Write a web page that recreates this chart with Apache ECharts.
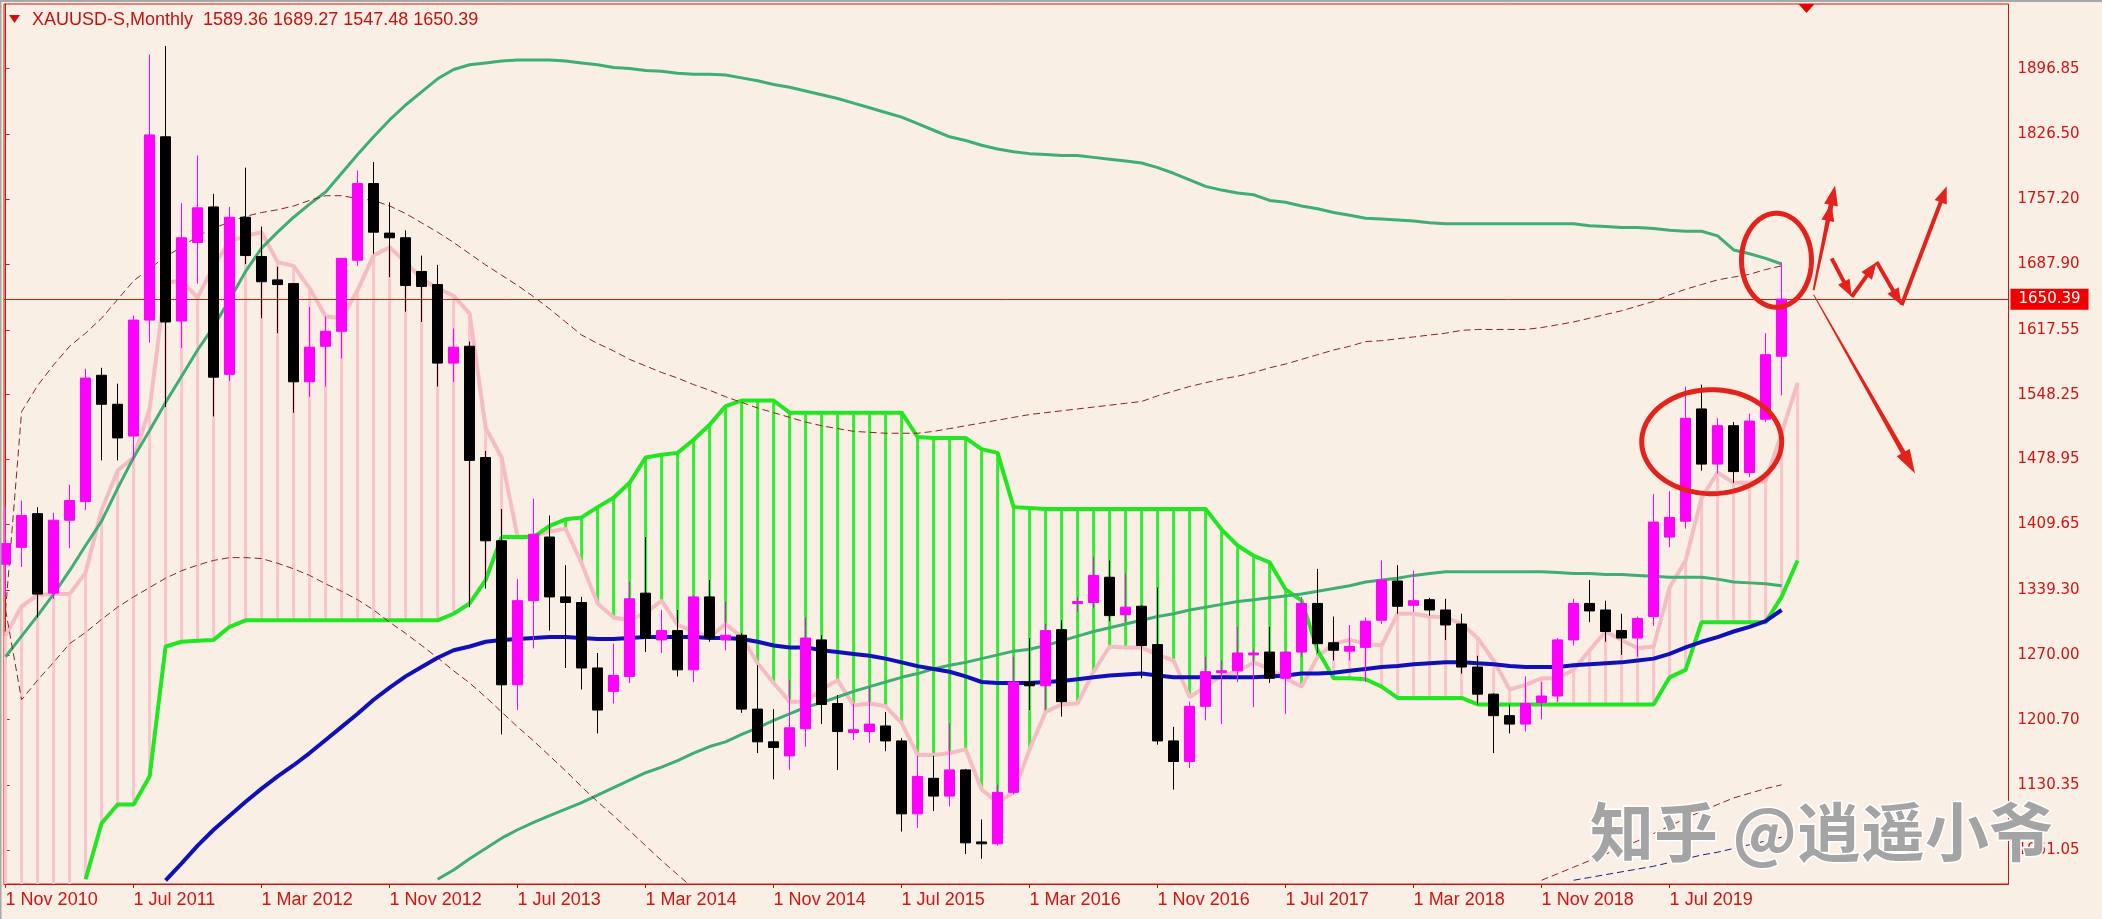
<!DOCTYPE html>
<html>
<head>
<meta charset="utf-8">
<title>XAUUSD-S, Monthly</title>
<script src="https://cdn.jsdelivr.net/npm/echarts@6/dist/echarts.min.js"></script>
<style>
  html, body { margin: 0; padding: 0; background: #f9efe4; }
  #main { width: 2102px; height: 919px; }
</style>
</head>
<body>
<div id="main"></div>
<script>
// monthly bars, index 0 = Nov 2010 ... index 111 = Feb 2020
const open = [
  1367, 1385, 1421, 1336, 1414, 1434, 1569, 1538, 1504, 1628,
  1824, 1627, 1711, 1749, 1570, 1738, 1696, 1671, 1667, 1562,
  1600, 1616, 1692, 1774, 1721, 1716, 1680, 1666, 1582, 1600,
  1481, 1392, 1238, 1328, 1396, 1332, 1326, 1256, 1231, 1247,
  1336, 1286, 1296, 1254, 1332, 1286, 1291, 1212, 1177, 1162,
  1191, 1286, 1218, 1187, 1188, 1194, 1178, 1100, 1138, 1119,
  1147, 1070, 1068, 1123, 1241, 1237, 1297, 1325, 1326, 1353,
  1313, 1322, 1281, 1178, 1156, 1215, 1251, 1253, 1270, 1273,
  1245, 1273, 1325, 1283, 1274, 1278, 1307, 1349, 1323, 1329,
  1318, 1303, 1257, 1228, 1205, 1196, 1219, 1226, 1286, 1325,
  1318, 1296, 1288, 1311, 1396, 1413, 1533, 1474, 1515, 1465,
  1522, 1589.36
];
const high = [
  1428, 1435, 1428, 1422, 1452, 1576, 1577, 1560, 1633, 1912,
  1921, 1753, 1804, 1763, 1749, 1791, 1728, 1685, 1667, 1642,
  1632, 1694, 1788, 1797, 1754, 1724, 1697, 1687, 1619, 1605,
  1488, 1426, 1351, 1437, 1419, 1366, 1332, 1272, 1282, 1348,
  1396, 1318, 1318, 1334, 1350, 1327, 1293, 1259, 1212, 1243,
  1310, 1291, 1227, 1218, 1236, 1209, 1181, 1162, 1162, 1197,
  1148, 1094, 1131, 1268, 1288, 1303, 1307, 1332, 1375, 1371,
  1357, 1323, 1342, 1193, 1220, 1268, 1264, 1300, 1276, 1300,
  1274, 1332, 1362, 1311, 1302, 1310, 1371, 1366, 1360, 1331,
  1330, 1314, 1269, 1229, 1217, 1247, 1241, 1288, 1330, 1350,
  1328, 1314, 1311, 1442, 1445, 1557, 1559, 1523, 1519, 1528,
  1614, 1689.27
];
const low = [
  1331, 1364, 1310, 1330, 1384, 1425, 1478, 1478, 1478, 1604,
  1535, 1598, 1667, 1525, 1563, 1688, 1630, 1614, 1529, 1546,
  1557, 1587, 1686, 1699, 1674, 1637, 1626, 1557, 1562, 1321,
  1341, 1185, 1211, 1277, 1296, 1256, 1233, 1186, 1218, 1240,
  1273, 1272, 1247, 1241, 1284, 1275, 1208, 1165, 1137, 1147,
  1172, 1196, 1147, 1179, 1176, 1167, 1081, 1085, 1103, 1108,
  1057, 1052, 1066, 1121, 1211, 1211, 1204, 1316, 1320, 1306,
  1305, 1245, 1174, 1126, 1149, 1200, 1196, 1241, 1214, 1240,
  1207, 1268, 1272, 1264, 1264, 1241, 1303, 1314, 1316, 1312,
  1286, 1250, 1217, 1165, 1186, 1188, 1201, 1220, 1280, 1305,
  1284, 1270, 1268, 1301, 1385, 1405, 1467, 1464, 1454, 1460,
  1519, 1547.48
];
const close = [
  1389, 1419, 1335, 1414, 1435, 1566, 1538, 1502, 1628, 1826,
  1626, 1716, 1748, 1567, 1738, 1697, 1669, 1666, 1562, 1599,
  1616, 1694, 1774, 1722, 1716, 1665, 1664, 1582, 1599, 1478,
  1392, 1238, 1328, 1399, 1332, 1326, 1256, 1211, 1248, 1330,
  1288, 1296, 1254, 1332, 1288, 1291, 1212, 1177, 1171, 1192,
  1288, 1217, 1188, 1190, 1196, 1178, 1100, 1140, 1119, 1147,
  1069, 1068, 1123, 1241, 1237, 1296, 1220, 1327, 1355, 1312,
  1321, 1280, 1178, 1156, 1215, 1252, 1253, 1272, 1272, 1245,
  1273, 1325, 1282, 1275, 1279, 1306, 1350, 1322, 1328, 1318,
  1302, 1257, 1228, 1205, 1196, 1218, 1226, 1286, 1325, 1317,
  1295, 1288, 1309, 1412, 1417, 1523, 1474, 1515, 1466, 1520,
  1591, 1650.39
];

const xTickLabels = ['1 Nov 2010', '1 Jul 2011', '1 Mar 2012', '1 Nov 2012', '1 Jul 2013', '1 Mar 2014',
  '1 Nov 2014', '1 Jul 2015', '1 Mar 2016', '1 Nov 2016', '1 Jul 2017', '1 Mar 2018', '1 Nov 2018', '1 Jul 2019'];
const yTickLabels = [1896.85, 1826.50, 1757.20, 1687.90, 1617.55, 1548.25, 1478.95,
  1409.65, 1339.30, 1270.00, 1200.70, 1130.35, 1061.05];

// cloud edges (pink one runs one bar past the last candle)
const kumoA = [
  1291, 1322, 1334, 1335, 1335, 1358, 1425, 1467, 1481, 1533,
  1668, 1670, 1652, 1686, 1712, 1718, 1722, 1690, 1686, 1662,
  1632, 1630, 1660, 1697, 1706, 1690, 1672, 1662, 1654, 1635,
  1513, 1481, 1396, 1397, 1402, 1405, 1368, 1325, 1310, 1307,
  1315, 1328, 1302, 1295, 1289, 1303, 1289, 1261, 1240, 1220,
  1220, 1233, 1243, 1216, 1218, 1215, 1197, 1163, 1163, 1165,
  1169, 1126, 1112, 1123, 1169, 1209, 1217, 1218, 1252, 1279,
  1278, 1278, 1270, 1264, 1225, 1236, 1248, 1252, 1262, 1255,
  1245, 1236, 1268, 1282, 1286, 1282, 1280, 1314, 1314, 1311,
  1310, 1303, 1288, 1264, 1233, 1238, 1245, 1245, 1254, 1275,
  1295, 1286, 1277, 1279, 1342, 1371, 1438, 1465, 1454, 1454,
  1456, 1507, 1561
];
const kumoBStart = 5;
const kumoB = [
  1030, 1090, 1110, 1110, 1140,
  1279, 1284, 1285, 1286, 1300, 1307, 1307, 1307, 1307, 1307,
  1307, 1307, 1307, 1307, 1307, 1307, 1307, 1307, 1314, 1325,
  1350, 1396, 1396, 1396, 1408, 1415, 1417, 1428, 1438, 1454,
  1481, 1484, 1486, 1500, 1516, 1536, 1542, 1542, 1542, 1529,
  1529, 1529, 1529, 1529, 1529, 1529, 1529, 1503, 1502, 1502,
  1502, 1490, 1486, 1428, 1427, 1426, 1426, 1426, 1426, 1426,
  1426, 1426, 1426, 1426, 1426, 1426, 1404, 1387, 1376, 1369,
  1340, 1328, 1275, 1245, 1245, 1244, 1236, 1224, 1224, 1224,
  1224, 1224, 1217, 1217, 1217, 1217, 1217, 1217, 1217, 1217,
  1217, 1217, 1217, 1217, 1246, 1254, 1305, 1305, 1305, 1305,
  1305, 1332, 1371
];

// slow average (blue)
const maStart = 10;
const ma = [
  1029, 1047, 1066, 1083, 1098, 1113, 1127, 1140, 1152, 1165,
  1179, 1193, 1207, 1222, 1235, 1247, 1257, 1267, 1275, 1279,
  1284, 1286, 1287, 1288, 1289, 1289, 1288, 1287, 1287, 1288,
  1289, 1289, 1289, 1289, 1288, 1288, 1287, 1284, 1280, 1278,
  1278, 1275, 1273, 1271, 1269, 1266, 1262, 1258, 1255, 1252,
  1247, 1241, 1240, 1240, 1240, 1241, 1242, 1244, 1246, 1248,
  1249, 1250, 1248, 1246, 1246, 1246, 1246, 1246, 1246, 1247,
  1248, 1250, 1250, 1251, 1253, 1255, 1257, 1258, 1260, 1261,
  1262, 1262, 1261, 1260, 1258, 1257, 1257, 1257, 1259, 1260,
  1261, 1262, 1264, 1266, 1271, 1278, 1284, 1289, 1295, 1300,
  1306, 1318
];

// wide band (sea green)
const bandUp = [
  1268, 1290, 1312, 1335, 1360, 1387, 1413, 1448, 1481, 1510,
  1540, 1568, 1596, 1621, 1650, 1680, 1705, 1722, 1738, 1752,
  1765, 1785, 1805, 1824, 1842, 1858, 1872, 1886, 1896, 1901,
  1903, 1905, 1906, 1906, 1906, 1905, 1903, 1901, 1898, 1897,
  1895, 1894, 1892, 1891, 1891, 1890, 1887, 1884, 1880, 1877,
  1873, 1869, 1865, 1860, 1855, 1850, 1845, 1838, 1831, 1824,
  1820, 1815, 1811, 1808, 1806, 1805, 1804, 1804, 1802, 1800,
  1798, 1796, 1791, 1785, 1778, 1771, 1767, 1764, 1762, 1756,
  1754, 1750, 1747, 1743, 1740, 1737, 1736, 1735, 1734, 1732,
  1731, 1731, 1731, 1731, 1731, 1731, 1731, 1731, 1731, 1729,
  1728, 1727, 1727, 1726, 1724, 1723, 1723, 1718, 1703, 1699,
  1694, 1688
];
const bandDnStart = 27;
const bandDn = [
  1030, 1040, 1052,
  1063, 1074, 1083, 1091, 1098, 1105, 1112, 1120, 1128, 1136,
  1144, 1150, 1157, 1165, 1172, 1177, 1185, 1192, 1200, 1207,
  1214, 1219, 1225, 1231, 1236, 1241, 1246, 1250, 1255, 1259,
  1262, 1266, 1270, 1274, 1276, 1280, 1285, 1290, 1295, 1299,
  1303, 1307, 1311, 1314, 1318, 1321, 1324, 1327, 1329, 1331,
  1333, 1335, 1338, 1341, 1344, 1348, 1350, 1352, 1355, 1357,
  1359, 1359, 1359, 1359, 1359, 1359, 1359, 1358, 1357, 1357,
  1356, 1356, 1355, 1354, 1353, 1353, 1353, 1351, 1348, 1347,
  1346, 1344
];

// envelope (dashed)
const envUp = [
  1318, 1530, 1558, 1580, 1600, 1614, 1630, 1650, 1670, 1683,
  1696, 1706, 1718, 1726, 1733, 1739, 1743, 1746, 1750, 1756,
  1761, 1761, 1758, 1756, 1750, 1742, 1732, 1722, 1711, 1699,
  1687, 1676, 1665, 1653, 1640, 1626, 1612, 1603, 1595, 1586,
  1579, 1572, 1566, 1559, 1553, 1546, 1540, 1534, 1529, 1524,
  1519, 1515, 1512, 1509, 1508, 1507, 1507, 1507, 1509, 1512,
  1515, 1518, 1521, 1524, 1527, 1529, 1531, 1533, 1535, 1537,
  1539, 1541, 1547, 1552, 1557, 1561, 1565, 1568, 1572, 1577,
  1581, 1586, 1591, 1596, 1600, 1605, 1606, 1608, 1610, 1612,
  1614, 1617, 1618, 1618, 1618, 1618, 1620, 1623, 1626, 1630,
  1634, 1638, 1643, 1648, 1655, 1661, 1666, 1671, 1674, 1677,
  1682, 1686
];
const envDn = [
  1318, 1222, 1243, 1262, 1282, 1294, 1308, 1321, 1332, 1342,
  1352, 1360, 1366, 1371, 1374, 1374, 1373, 1368, 1362, 1355,
  1346, 1338, 1329, 1318, 1305, 1293, 1280, 1267, 1253, 1240,
  1225, 1209, 1193, 1178, 1162, 1146, 1129, 1113, 1098, 1082,
  1066, 1050, 1035, 1020
];
const envDnLateStart = 96;
const envDnLate = [1029, 1036, 1043, 1050, 1057, 1064, 1071, 1079, 1087, 1095, 1103, 1110, 1117, 1122, 1127, 1131];
const envDn2Start = 98;
const envDn2 = [1029, 1032, 1035, 1038, 1041, 1044, 1048, 1052, 1056, 1059, 1063, 1067, 1071, 1075];

// hand-drawn marks, in bar index / price
const rings = [
  { at: [110.68, 1692], rx: 35, ry: 47 },
  { at: [106.63, 1498], rx: 70, ry: 52 }
];
const upArrow = [[113.0, 1660], [114.34, 1772]];
const zigzag = [[114.13, 1694], [115.38, 1653], [116.94, 1690], [118.5, 1644], [121.32, 1771]];
const downArrow = [[113.0, 1655], [119.34, 1464]];

const X_MIN = -0.1, X_MAX = 125.18;
const Y_MIN = 1025, Y_MAX = 1966;
const RED = '#d01414';
const INK = '#e3231b';

const at = (start, arr) => arr.map((v, i) => [start + i, v]);

const candles = open.map((o, i) => [i, o, close[i], low[i], high[i]]);
const cloud = kumoA.map((a, i) => {
  const b = i >= kumoBStart ? kumoB[i - kumoBStart] : null;
  return [i, a, b];
});

function line(data, color, width, z, type) {
  return {
    type: 'line', data, showSymbol: false, symbol: 'none', silent: true, z,
    lineStyle: { color, width, type: type || 'solid' }
  };
}

const chart = echarts.init(document.getElementById('main'));

chart.setOption({
  animation: false,
  backgroundColor: '#f9efe4',
  grid: { left: 4, right: 93.5, top: 4, bottom: 35, show: true, borderColor: RED, borderWidth: 1 },
  xAxis: {
    type: 'value', min: X_MIN, max: X_MAX,
    axisLine: { show: true, lineStyle: { color: RED } },
    axisTick: { show: true, length: 4, customValues: xTickLabels.map((_, i) => i * 8), lineStyle: { color: RED } },
    axisLabel: {
      customValues: xTickLabels.map((_, i) => i * 8),
      formatter: v => xTickLabels[Math.round(v / 8)],
      align: 'left', color: RED, fontFamily: 'Liberation Sans', fontSize: 18, margin: 7
    },
    splitLine: { show: false }
  },
  yAxis: {
    type: 'value', position: 'right', min: Y_MIN, max: Y_MAX,
    axisLine: { show: true, lineStyle: { color: RED } },
    axisTick: { show: true, length: 4, customValues: yTickLabels, lineStyle: { color: RED } },
    axisLabel: {
      customValues: yTickLabels,
      formatter: v => v.toFixed(2),
      color: RED, fontFamily: 'DejaVu Sans', fontSize: 15, margin: 9
    },
    splitLine: { show: false }
  },
  series: [
    {
      type: 'custom', data: cloud, dimensions: ['bar', 'a', 'b'], encode: { x: 0, y: 1 },
      clip: true, silent: true, z: 1,
      renderItem: (params, api) => {
        const m = api.value(0), a = api.value(1), b = api.value(2);
        const noB = b == null || isNaN(b);
        const p1 = api.coord([m, a]);
        const p2 = api.coord([m, noB ? Y_MIN : b]);
        return {
          type: 'line',
          shape: { x1: p1[0], y1: p1[1], x2: p2[0], y2: p2[1] },
          style: { stroke: noB || a >= b ? '#f8c6cc' : '#33ec33', lineWidth: 3 }
        };
      }
    },
    line(at(0, kumoA), '#f6bcc4', 4, 2),
    line(at(kumoBStart, kumoB), '#22e622', 4, 2),
    line(at(0, bandUp), '#3fae72', 3, 3),
    line(at(bandDnStart, bandDn), '#3fae72', 3, 3),
    line(at(0, envUp), '#8b2323', 1, 3, [7, 4]),
    line(at(0, envDn), '#8b2323', 1, 3, [7, 4]),
    line(at(envDnLateStart, envDnLate), '#8b2323', 1, 3, [7, 4]),
    line(at(envDn2Start, envDn2), '#1c1c8c', 1, 3, [7, 4]),
    line(at(maStart, ma), '#1010b8', 4, 4),
    {
      type: 'candlestick', data: candles, encode: { x: 0, y: [1, 2, 3, 4] },
      barWidth: 10, z: 10, silent: true,
      itemStyle: { color: '#ff00ff', color0: '#000000', borderColor: '#ff00ff', borderColor0: '#000000', borderWidth: 1 },
      markLine: {
        silent: true, symbol: ['none', 'none'],
        lineStyle: { color: '#ea1010', width: 1, type: 'solid' },
        label: {
          position: 'end', distance: 2, formatter: () => close[close.length - 1].toFixed(2),
          color: '#ffffff', backgroundColor: '#f00000', padding: [2, 8, 2, 8], lineHeight: 17,
          fontFamily: 'DejaVu Sans', fontSize: 15
        },
        data: [{ yAxis: close[close.length - 1] }]
      }
    }
  ]
});

// pixel helpers for the hand-drawn marks
const px = p => chart.convertToPixel({ gridIndex: 0 }, p);

function ringPoints(c, rx, ry) {
  const pts = [];
  for (let k = 0; k < 90; k++) {
    const t = k / 90 * Math.PI * 2;
    pts.push([c[0] + rx * Math.cos(t), c[1] + ry * Math.sin(t)]);
  }
  return pts;
}

function arrowPoints(a, b, w0, w1, hl, hw) {
  const dx = b[0] - a[0], dy = b[1] - a[1];
  const len = Math.hypot(dx, dy);
  const ux = dx / len, uy = dy / len, nx = -uy, ny = ux;
  const bx = b[0] - ux * hl, by = b[1] - uy * hl;
  return [
    [a[0] + nx * w0 / 2, a[1] + ny * w0 / 2],
    [bx + nx * w1 / 2, by + ny * w1 / 2],
    [bx + nx * hw / 2, by + ny * hw / 2],
    [b[0], b[1]],
    [bx - nx * hw / 2, by - ny * hw / 2],
    [bx - nx * w1 / 2, by - ny * w1 / 2],
    [a[0] - nx * w0 / 2, a[1] - ny * w0 / 2]
  ];
}

function headPoints(a, b, back, hl, hw) {
  const dx = b[0] - a[0], dy = b[1] - a[1];
  const len = Math.hypot(dx, dy);
  const ux = dx / len, uy = dy / len, nx = -uy, ny = ux;
  const tx = b[0] - ux * back, ty = b[1] - uy * back;
  const bx = tx - ux * hl, by = ty - uy * hl;
  return [[tx, ty], [bx + nx * hw / 2, by + ny * hw / 2], [bx - nx * hw / 2, by - ny * hw / 2]];
}

const marks = [];
rings.forEach(r => {
  marks.push({ type: 'polygon', z: 50, shape: { points: ringPoints(px(r.at), r.rx, r.ry) },
    style: { fill: 'none', stroke: INK, lineWidth: 5 } });
});
const ua = px(upArrow[0]), ub = px(upArrow[1]);
marks.push({ type: 'polygon', z: 50, shape: { points: arrowPoints(ua, ub, 2, 5, 20, 14) }, style: { fill: INK } });
marks.push({ type: 'polygon', z: 50, shape: { points: headPoints(ua, ub, 18, 18, 13) }, style: { fill: INK } });
for (let k = 0; k < zigzag.length - 1; k++) {
  const a = px(zigzag[k]), b = px(zigzag[k + 1]);
  marks.push({ type: 'polygon', z: 50, shape: { points: arrowPoints(a, b, 4, 4, 17, 13) }, style: { fill: INK } });
}
marks.push({ type: 'polygon', z: 50,
  shape: { points: arrowPoints(px(downArrow[0]), px(downArrow[1]), 1, 5, 24, 15) }, style: { fill: INK } });

// chart chrome: window edge, header, shift marker, watermark
marks.push(
  { type: 'rect', z: 40, shape: { x: 0, y: 0, width: 2102, height: 2 }, style: { fill: '#a8a8a8' } },
  { type: 'rect', z: 40, shape: { x: 0, y: 0, width: 1.5, height: 919 }, style: { fill: '#a8a8a8' } },
  { type: 'polygon', z: 40, shape: { points: [[9, 15], [20, 15], [14.5, 23]] }, style: { fill: '#d01010' } },
  { type: 'text', z: 40, x: 32, y: 20,
    style: { text: 'XAUUSD-S,Monthly  1589.36 1689.27 1547.48 1650.39', fill: '#c81010',
      fontFamily: 'Liberation Sans', fontSize: 18, verticalAlign: 'middle' } },
  { type: 'polygon', z: 40, shape: { points: [[1798.5, 4], [1814.5, 4], [1806.5, 13]] }, style: { fill: '#ee0000' } },
  { type: 'text', z: 60, x: 1590, y: 832,
    style: { text: '知乎 @逍遥小爷', fill: '#a4a4a4', stroke: '#ffffff', lineWidth: 3,
      fontFamily: 'Noto Sans CJK SC', fontWeight: 'bold', fontSize: 64, verticalAlign: 'middle' } }
);

chart.setOption({ graphic: { elements: marks } });
</script>
</body>
</html>
